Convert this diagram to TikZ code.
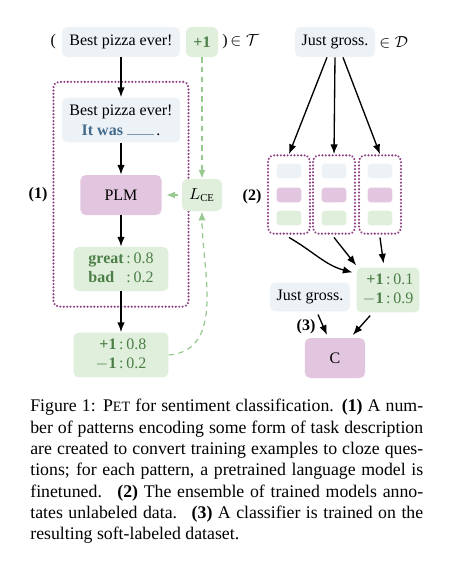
\documentclass[tikz,border=0pt]{standalone}
\usepackage{amssymb}
\usepackage{fontspec}
\setmainfont{Liberation Serif}
\usetikzlibrary{positioning,arrows.meta,fit,backgrounds}

\definecolor{boxblue}{HTML}{EDF2F7}
\definecolor{boxpurple}{HTML}{E2C6DF}
\definecolor{boxgreen}{HTML}{E0EFDB}
\definecolor{txtgreen}{HTML}{4C7F47}
\definecolor{txtblue}{HTML}{426C8E}
\definecolor{dotpurple}{HTML}{8C3D80}
\definecolor{arrgreen}{HTML}{98C990}

\begin{document}
\begin{tikzpicture}[x=0.5625pt,y=-0.5625pt]
\tikzstyle{every node}=[font=\fontsize{9}{11.2}\selectfont, inner sep=0pt]
\tikzstyle{tbox}=[rectangle, rounded corners=3pt, align=center]
\tikzstyle{inbox}=[tbox, fill=boxblue]
\tikzstyle{modelbox}=[tbox, fill=boxpurple]
\tikzstyle{outbox}=[tbox, fill=boxgreen, text=txtgreen]
\tikzstyle{mini}=[rectangle, rounded corners=2pt, minimum width=14pt, minimum height=8.4pt]
\tikzstyle{ens}=[draw=dotpurple, line width=1.3pt, dash pattern=on 0.01pt off 1.9pt, line cap=round, rounded corners=3pt]
\tikzstyle{arr}=[-{Latex[length=5.5pt,width=4.2pt]}, line width=0.75pt]
\tikzstyle{garr}=[-{Latex[length=5pt,width=4pt]}, line width=0.7pt, draw=arrgreen, dash pattern=on 3pt off 2.5pt]
\tikzstyle{step label}=[font=\fontsize{9}{11}\selectfont\bfseries]

\useasboundingbox (0,0) rectangle (474,568);

% (1) training on cloze questions
\node[inbox, minimum width=66.4pt, minimum height=16.9pt] (bp) at (121,42) {Best pizza ever!};
\node[outbox, minimum width=18pt, minimum height=16.9pt] (plus) at (202,42) {\textbf{+1}};
\node[left=3pt of bp] (lpar) {(};
\node[right=2pt of plus] (intr) {)\,$\in\mathcal{T}$};
\node[inbox, minimum width=66.4pt, minimum height=25.3pt] (cloze) at (121,120)
  {Best pizza ever!\\ \textcolor{txtblue}{\textbf{It was}} \textcolor{txtblue!70}{\rule{15pt}{0.4pt}}\,.};
\node[modelbox, minimum width=45.6pt, minimum height=22.5pt] (plm) at (121,195) {PLM};
\node[outbox, text=black, minimum width=22.5pt, minimum height=18pt] (lce) at (202,195) {$L_{\mathrm{CE}}$};
\node[outbox, minimum width=53.4pt, minimum height=24.8pt] (gb) at (121,269)
  {\begin{tabular}{@{}l@{\,:\,}l@{}}\textbf{great} & 0.8\\ \textbf{bad} & 0.2\end{tabular}};
\node[outbox, minimum width=53.4pt, minimum height=25.3pt] (p08) at (121,355)
  {\begin{tabular}{@{}r@{\,:\,}l@{}}\textbf{+1} & 0.8\\ \textbf{$-$1} & 0.2\end{tabular}};
\node[step label] (s1) at (38,195) {(1)};

% (2) ensemble annotates unlabeled data
\node[inbox, minimum width=45pt, minimum height=16.9pt] (jg) at (335,42) {Just gross.};
\node[right=2pt of jg] (indd) {$\in\mathcal{D}$};
\foreach \i/\x in {1/289,2/334,3/380}{
  \node[mini, fill=boxblue] (m\i a) at (\x,171) {};
  \node[mini, fill=boxpurple] (m\i b) at (\x,195) {};
  \node[mini, fill=boxgreen] (m\i c) at (\x,218) {};
}
\node[outbox, minimum width=35.4pt, minimum height=25.3pt] (res) at (388,290)
  {\begin{tabular}{@{}r@{\,:\,}l@{}}\textbf{+1} & 0.1\\ \textbf{$-$1} & 0.9\end{tabular}};
\node[step label] (s2) at (252,197) {(2)};

% (3) classifier
\node[inbox, minimum width=45pt, minimum height=16.3pt] (jg2) at (310,297) {Just gross.};
\node[modelbox, minimum width=33.8pt, minimum height=22.5pt] (clf) at (335,358) {C};
\node[step label] (s3) at (306,327) {(3)};

\begin{scope}[on background layer]
\node[ens, fit=(cloze)(gb), inner xsep=4.6pt, inner ysep=8.6pt] (pat) {};
\foreach \i in {1,2,3}
  \node[ens, fit=(m\i a)(m\i c), inner xsep=4.6pt, inner ysep=4.4pt] (g\i) {};
\end{scope}

\draw[arr] (bp) -- (cloze);
\draw[arr] (cloze) -- (plm);
\draw[arr] (plm) -- (gb);
\draw[arr] (gb) -- (p08);
\draw[garr] (plus) -- (lce);
\draw[garr, dash pattern=] ([xshift=-2pt]lce.west) -- ([xshift=2.5pt]plm.east);
\draw[garr] (p08.east) to[out=5,in=-90] (lce.south);

\draw[arr] ([xshift=-4.5pt]jg.south) -- (g1.north);
\draw[arr] (jg.south) -- (g2.north);
\draw[arr] ([xshift=4.5pt]jg.south) -- (g3.north);
\draw[arr] ([yshift=-1.5pt]g1.south) to[out=-30,in=165] ([xshift=-2pt,yshift=-3pt]res.north west);
\draw[arr] ([yshift=-1.5pt]g2.south) -- ([xshift=0pt,yshift=1pt]res.north west);
\draw[arr] ([yshift=-1.5pt]g3.south) -- ([xshift=-2.5pt,yshift=2pt]res.north);
\draw[arr] ([xshift=4.5pt,yshift=-1.5pt]jg2.south) -- ([xshift=-4.5pt,yshift=1.5pt]clf.north);
\draw[arr] ([xshift=-10pt,yshift=-1.5pt]res.south) -- ([xshift=10pt,yshift=1.5pt]clf.north);

% caption
\node[anchor=north west, text width=221pt, align=justify, font=\fontsize{10}{12}\selectfont] (cap) at (30,399)
  {Figure 1: P{\fontsize{8}{8}\selectfont ET} for sentiment classification. \textbf{(1)} A num-\linebreak
  ber of patterns encoding some form of task description
  are created to convert training examples to cloze ques-\linebreak
  tions; for each pattern, a pretrained language model is
  finetuned. \ \textbf{(2)} The ensemble of trained models anno-\linebreak
  tates unlabeled data. \ \textbf{(3)} A classifier is trained on the
  resulting soft-labeled dataset.};
\end{tikzpicture}
\end{document}
